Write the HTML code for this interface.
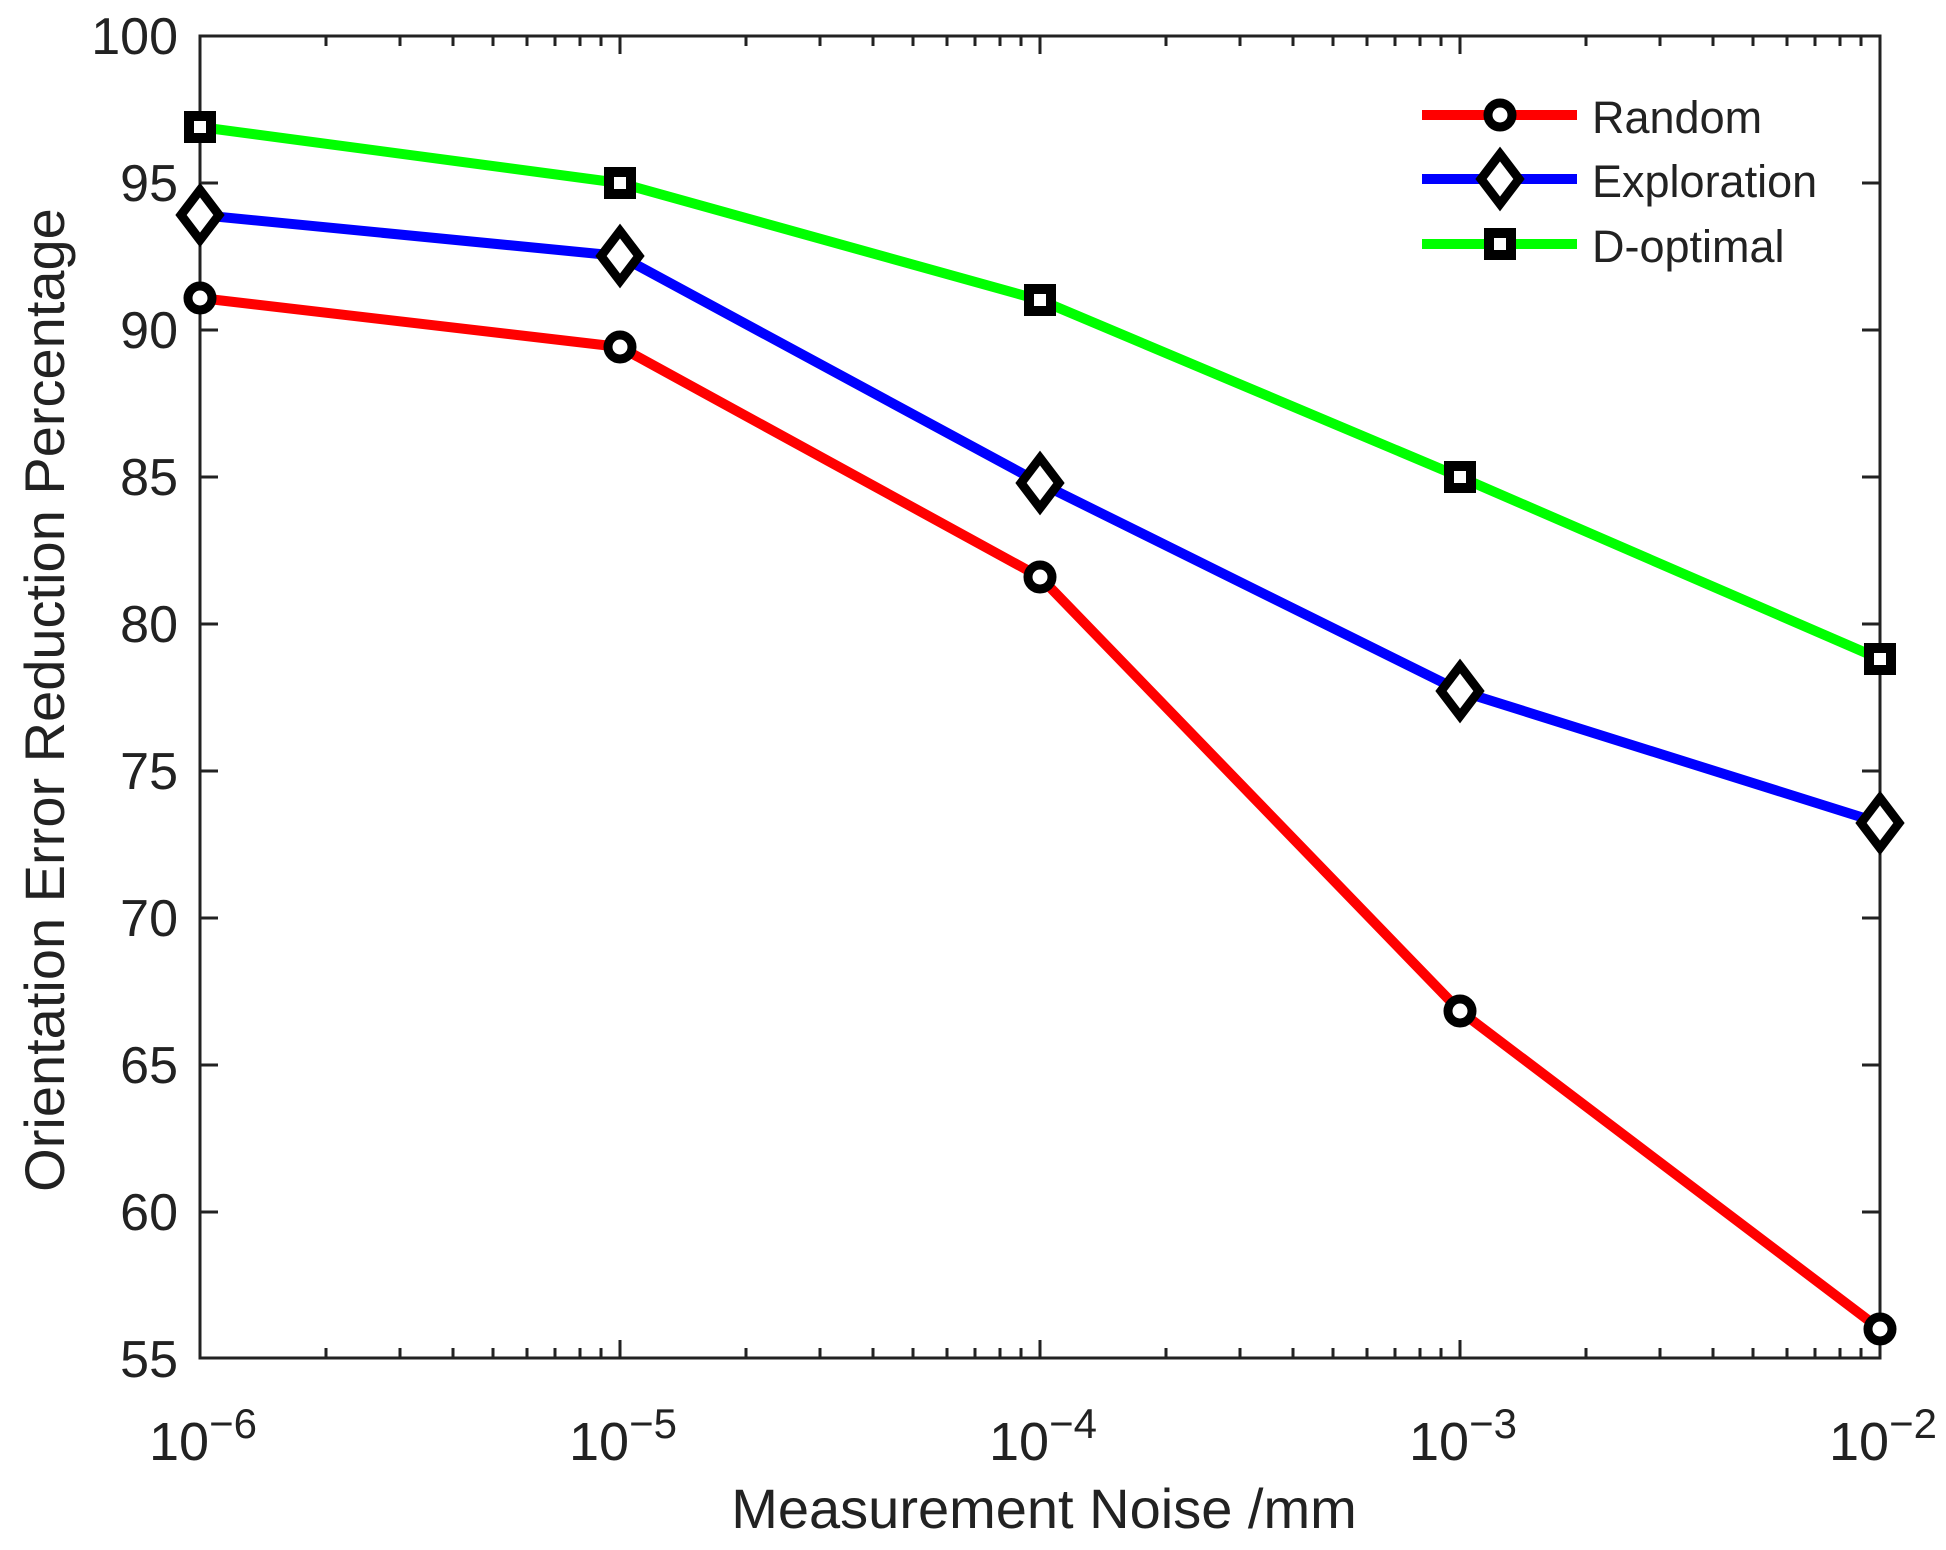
<!DOCTYPE html><html><head><style>body{margin:0;background:#fff}svg{display:block}text{font-family:"Liberation Sans",Arial,sans-serif;fill:#222}</style></head><body>
<svg width="1946" height="1550" viewBox="0 0 1946 1550" xmlns="http://www.w3.org/2000/svg">
<defs>
<g id="c"><circle r="12" fill="#fff" stroke="#000" stroke-width="9"/></g>
<g id="d"><path d="M0,-25 L19,0 L0,25 L-19,0Z" fill="#fff" stroke="#000" stroke-width="9" stroke-linejoin="miter"/></g>
<g id="s"><rect x="-11" y="-11" width="22" height="22" fill="#fff" stroke="#000" stroke-width="10"/></g>
</defs>
<g stroke="#222" stroke-width="3" fill="none">
<rect x="200" y="36" width="1680" height="1322"/>
<path d="M200,36h18M200,183h18M200,330h18M200,477h18M200,624h18M200,771h18M200,918h18M200,1065h18M200,1212h18M1880,183h-18M1880,330h-18M1880,477h-18M1880,624h-18M1880,771h-18M1880,918h-18M1880,1065h-18M1880,1212h-18
M620,1358v-18M1040,1358v-18M1460,1358v-18M620,36v18M1040,36v18M1460,36v18"/>
<path id="minor" d="M326,1358v-10M400,1358v-10M453,1358v-10M493,1358v-10M527,1358v-10M555,1358v-10M580,1358v-10M601,1358v-10M326,36v10M400,36v10M453,36v10M493,36v10M527,36v10M555,36v10M580,36v10M601,36v10"/>
<use href="#minor" x="420"/><use href="#minor" x="840"/><use href="#minor" x="1260"/>
</g>
<g font-size="52" text-anchor="end">
<text x="178" y="54">100</text><text x="178" y="201">95</text><text x="178" y="348">90</text><text x="178" y="495">85</text><text x="178" y="642">80</text><text x="178" y="789">75</text><text x="178" y="936">70</text><text x="178" y="1083">65</text><text x="178" y="1230">60</text><text x="178" y="1377">55</text>
</g>
<g font-size="54">
<text x="149" y="1460">10<tspan font-size="42" dy="-22">−6</tspan></text>
<text x="569" y="1460">10<tspan font-size="42" dy="-22">−5</tspan></text>
<text x="989" y="1460">10<tspan font-size="42" dy="-22">−4</tspan></text>
<text x="1409" y="1460">10<tspan font-size="42" dy="-22">−3</tspan></text>
<text x="1829" y="1460">10<tspan font-size="42" dy="-22">−2</tspan></text>
</g>
<text x="1044" y="1528" font-size="56" text-anchor="middle">Measurement Noise /mm</text>
<text transform="translate(64,700) rotate(-90)" font-size="56" text-anchor="middle">Orientation Error Reduction Percentage</text>
<g fill="none" stroke-width="10" stroke-linejoin="round">
<polyline stroke="#00ff00" points="200,127 620,183 1040,300 1460,477 1880,659"/>
<polyline stroke="#0000ff" points="200,215 620,256 1040,483 1460,691 1880,823"/>
<polyline stroke="#ff0000" points="200,298 620,347 1040,577 1460,1011 1880,1329"/>
<line x1="1422" y1="115" x2="1577" y2="115" stroke="#ff0000"/>
<line x1="1422" y1="179" x2="1577" y2="179" stroke="#0000ff"/>
<line x1="1422" y1="244" x2="1577" y2="244" stroke="#00ff00"/>
</g>
<use href="#s" x="200" y="127"/><use href="#s" x="620" y="183"/><use href="#s" x="1040" y="300"/><use href="#s" x="1460" y="477"/><use href="#s" x="1880" y="659"/>
<use href="#d" x="200" y="215"/><use href="#d" x="620" y="256"/><use href="#d" x="1040" y="483"/><use href="#d" x="1460" y="691"/><use href="#d" x="1880" y="823"/>
<use href="#c" x="200" y="298"/><use href="#c" x="620" y="347"/><use href="#c" x="1040" y="577"/><use href="#c" x="1460" y="1011"/><use href="#c" x="1880" y="1329"/>
<use href="#c" x="1500" y="115"/><use href="#d" x="1500" y="179"/><use href="#s" x="1500" y="244"/>
<g font-size="45"><text x="1592" y="133">Random</text><text x="1592" y="197">Exploration</text><text x="1592" y="262">D-optimal</text></g>
</svg></body></html>
